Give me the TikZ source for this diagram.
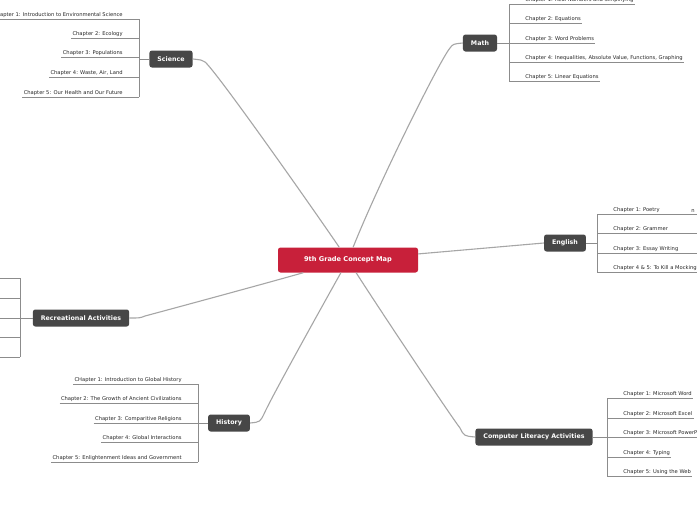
\documentclass[tikz,border=0pt]{standalone}
\usepackage{fontspec}
\setmainfont{DejaVu Sans}
\definecolor{crim}{HTML}{C8203A}
\begin{document}
\begin{tikzpicture}[x=1pt,y=-1pt,
  box/.style={fill=black!72,text=white,rounded corners=2.5pt,font=\fontsize{6.3}{6.5}\selectfont\bfseries,inner xsep=8pt,minimum height=17pt},
  leaf/.style={font=\fontsize{5.2}{5.5}\selectfont,text=black!85,inner sep=1.2pt},
  uline/.style={draw=black!45,line width=0.5pt},
  br/.style={draw=black!45,line width=0.6pt},
  con/.style={draw=black!35,line width=1.1pt}]
\useasboundingbox (0,0) rectangle (697,520);
\clip (0,0) rectangle (697,520);
\fill[white] (0,0) rectangle (697,520);
\node[fill=crim,text=white,rounded corners=2.5pt,font=\fontsize{6.6}{7}\selectfont\bfseries,minimum width=140pt,minimum height=25pt] (c) at (348,260) {9th Grade Concept Map};
\node[box] (sci) at (171,59) {Science};
\node[box] (mat) at (480,43) {Math};
\node[box] (eng) at (565,243) {English};
\node[box] (rec) at (81,318) {Recreational Activities};
\node[box] (his) at (229,423) {History};
\node[box] (com) at (534,437) {Computer Literacy Activities};
\draw[con] (c) .. controls (300,190) and (215,70) .. (205,62) .. controls (202,60) .. (sci.east);
\draw[con] (c) .. controls (380,180) and (440,60) .. (450,48) .. controls (453,44) .. (mat.west);
\draw[con] (c) -- (eng.west);
\draw[con] (c) .. controls (260,285) and (160,312) .. (145,316) .. controls (140,318) .. (rec.east);
\draw[con] (c) .. controls (320,310) and (270,400) .. (264,414) .. controls (260,422) .. (his.east);
\draw[con] (c) .. controls (380,310) and (450,415) .. (460,428) .. controls (464,436) .. (com.west);
% Science
\foreach \y/\t [count=\i] in {19/Chapter 1: Introduction to Environmental Science,38/Chapter 2: Ecology,57/Chapter 3: Populations,77/{Chapter 4: Waste, Air, Land},97/Chapter 5: Our Health and Our Future}{
  \coordinate (sb\i) at (139,\y);
  \node[leaf,anchor=south east] (s\i) at (124,\y) {\t};
  \draw[uline] (s\i.south west) -- (sb\i);}
\draw[br] (sb1) -- (sb5); \draw[br] (sci.west) -- (sci.west -| sb1);
% Math
\foreach \y/\t [count=\i] in {4/Chapter 1: Real Numbers and Simplifying,23/Chapter 2: Equations,43/Chapter 3: Word Problems,62/{Chapter 4: Inequalities, Absolute Value, Functions, Graphing},81/Chapter 5: Linear Equations}{
  \coordinate (mb\i) at (509,\y);
  \node[leaf,anchor=south west] (m\i) at (524,\y) {\t};
  \draw[uline] (mb\i) -- (m\i.south east);}
\draw[br] (mb1) -- (mb5); \draw[br] (mat.east) -- (mat.east -| mb1);
% English
\foreach \y/\t [count=\i] in {214/Chapter 1: Poetry,233/Chapter 2: Grammer,253/Chapter 3: Essay Writing,272/Chapter 4 \& 5: To Kill a Mockingbird}{
  \coordinate (eb\i) at (597,\y);
  \node[leaf,anchor=south west] (e\i) at (612,\y) {\t};
  \draw[uline] (eb\i) -- (697,\y);}
\node[leaf,anchor=south west] (en) at (690,214) {n};
\draw[br] (eb1) -- (eb4); \draw[br] (eng.east) -- (eng.east -| eb1);
% Recreational
\foreach \y [count=\i] in {278,298,318,337,357}{
  \coordinate (rb\i) at (20,\y);
  \draw[uline] (0,\y) -- (rb\i);}
\draw[br] (rb1) -- (rb5); \draw[br] (rec.west) -- (rec.west -| rb1);
% History
\foreach \y/\t [count=\i] in {384/CHapter 1: Introduction to Global History,403/Chapter 2: The Growth of Ancient Civilizations,423/Chapter 3: Comparitive Religions,442/Chapter 4: Global Interactions,462/Chapter 5: Enlightenment Ideas and Government}{
  \coordinate (hb\i) at (198,\y);
  \node[leaf,anchor=south east] (h\i) at (183,\y) {\t};
  \draw[uline] (h\i.south west) -- (hb\i);}
\draw[br] (hb1) -- (hb5); \draw[br] (his.west) -- (his.west -| hb1);
% Computer
\foreach \y/\t [count=\i] in {398/Chapter 1: Microsoft Word,418/Chapter 2: Microsoft Excel,437/Chapter 3: Microsoft PowerPoint,457/Chapter 4: Typing,476/Chapter 5: Using the Web}{
  \coordinate (cb\i) at (607,\y);
  \node[leaf,anchor=south west] (k\i) at (622,\y) {\t};
  \draw[uline] (cb\i) -- (k\i.south east);}
\draw[br] (cb1) -- (cb5); \draw[br] (com.east) -- (com.east -| cb1);
\end{tikzpicture}
\end{document}
